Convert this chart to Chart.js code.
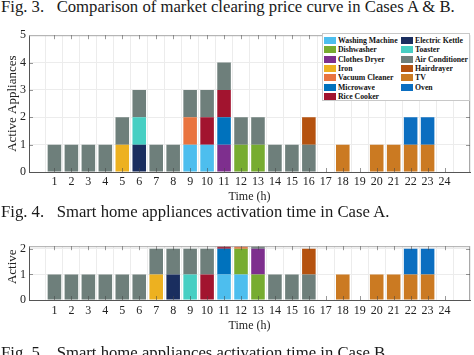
<!DOCTYPE html>
<html><head><meta charset="utf-8">
<script src="https://cdn.jsdelivr.net/npm/chart.js@4.4.1/dist/chart.umd.min.js"></script>
<style>
html,body{margin:0;padding:0;background:#fff;}
body{width:474px;height:355px;position:relative;overflow:hidden;font-family:"Liberation Serif","Times New Roman",serif;color:#1a1a1a;}
.cap{position:absolute;left:1px;font-size:16.7px;line-height:16.7px;white-space:pre;}
canvas{position:absolute;left:0;}
#legend{position:absolute;left:322px;top:33px;width:148px;height:68px;background:#fff;border:1px solid #c8c8c8;box-sizing:border-box;}
.li{position:absolute;font-weight:bold;font-size:9px;line-height:9px;white-space:nowrap;color:#111;transform:scaleX(0.86);transform-origin:0 0;}
.sw{position:absolute;width:12px;height:7px;}
</style>
</head><body>
<div class="cap" style="top:-1.5px">Fig. 3.   Comparison of market clearing price curve in Cases A &amp; B.</div>
<canvas id="c1" width="474" height="190" style="top:25px"></canvas>
<div id="legend"></div>
<div class="cap" style="top:203.5px">Fig. 4.   Smart home appliances activation time in Case A.</div>
<canvas id="c2" width="474" height="100" style="top:236px"></canvas>
<div class="cap" style="top:345px">Fig. 5.   Smart home appliances activation time in Case B.</div>
<script>
// ---------- data ----------
const hours = [1,2,3,4,5,6,7,8,9,10,11,12,13,14,15,16,17,18,19,20,21,22,23,24];
const applianceNames = ["Washing Machine","Dishwasher","Clothes Dryer","Iron","Vacuum Cleaner","Microwave","Rice Cooker","Electric Kettle","Toaster","Air Conditioner","Hairdrayer","TV","Oven"];
const applianceColors = ["#4DBEEE","#77AC30","#7E2F8E","#EDB120","#E9743F","#0072BD","#A2142F","#1A2E5F","#47CFC3","#6E7F7B","#B5520F","#CB7A22","#0B6EC0"];

// Case A (hour 1..24)
const caseA_washingMachine  = [0,0,0,0,0,0,0,0,1,1,0,0,0,0,0,0,0,0,0,0,0,0,0,0];
const caseA_dishwasher      = [0,0,0,0,0,0,0,0,0,0,0,1,1,0,0,0,0,0,0,0,0,0,0,0];
const caseA_clothesDryer    = [0,0,0,0,0,0,0,0,0,0,1,0,0,0,0,0,0,0,0,0,0,0,0,0];
const caseA_iron            = [0,0,0,0,1,0,0,0,0,0,0,0,0,0,0,0,0,0,0,0,0,0,0,0];
const caseA_vacuumCleaner   = [0,0,0,0,0,0,0,0,1,0,0,0,0,0,0,0,0,0,0,0,0,0,0,0];
const caseA_microwave       = [0,0,0,0,0,0,0,0,0,0,1,0,0,0,0,0,0,0,0,0,0,0,0,0];
const caseA_riceCooker      = [0,0,0,0,0,0,0,0,0,1,1,0,0,0,0,0,0,0,0,0,0,0,0,0];
const caseA_electricKettle  = [0,0,0,0,0,1,0,0,0,0,0,0,0,0,0,0,0,0,0,0,0,0,0,0];
const caseA_toaster         = [0,0,0,0,0,1,0,0,0,0,0,0,0,0,0,0,0,0,0,0,0,0,0,0];
const caseA_airConditioner  = [1,1,1,1,1,1,1,1,1,1,1,1,1,1,1,1,0,0,0,0,0,0,0,0];
const caseA_hairdryer       = [0,0,0,0,0,0,0,0,0,0,0,0,0,0,0,1,0,0,0,0,0,0,0,0];
const caseA_tv              = [0,0,0,0,0,0,0,0,0,0,0,0,0,0,0,0,0,1,0,1,1,1,1,0];
const caseA_oven            = [0,0,0,0,0,0,0,0,0,0,0,0,0,0,0,0,0,0,0,0,0,1,1,0];

// Case B (hour 1..24)
const caseB_washingMachine  = [0,0,0,0,0,0,0,0,0,0,1,1,0,0,0,0,0,0,0,0,0,0,0,0];
const caseB_dishwasher      = [0,0,0,0,0,0,0,0,0,0,0,1,1,0,0,0,0,0,0,0,0,0,0,0];
const caseB_clothesDryer    = [0,0,0,0,0,0,0,0,0,0,0,0,1,0,0,0,0,0,0,0,0,0,0,0];
const caseB_iron            = [0,0,0,0,0,0,1,0,0,0,0,0,0,0,0,0,0,0,0,0,0,0,0,0];
const caseB_vacuumCleaner   = [0,0,0,0,0,0,0,0,0,0,0,1,0,0,0,0,0,0,0,0,0,0,0,0];
const caseB_microwave       = [0,0,0,0,0,0,0,0,0,0,1,0,0,0,0,0,0,0,0,0,0,0,0,0];
const caseB_riceCooker      = [0,0,0,0,0,0,0,0,0,1,1,0,0,0,0,0,0,0,0,0,0,0,0,0];
const caseB_electricKettle  = [0,0,0,0,0,0,0,1,0,0,0,0,0,0,0,0,0,0,0,0,0,0,0,0];
const caseB_toaster         = [0,0,0,0,0,0,0,0,1,0,0,0,0,0,0,0,0,0,0,0,0,0,0,0];
const caseB_airConditioner  = [1,1,1,1,1,1,1,1,1,1,0,0,1,1,1,1,0,0,0,0,0,0,0,0];
const caseB_hairdryer       = [0,0,0,0,0,0,0,0,0,0,0,0,0,0,0,1,0,0,0,0,0,0,0,0];
const caseB_tv              = [0,0,0,0,0,0,0,0,0,0,0,0,0,0,0,0,0,1,0,1,1,1,1,0];
const caseB_oven            = [0,0,0,0,0,0,0,0,0,0,0,0,0,0,0,0,0,0,0,0,0,1,1,0];

const caseASeries = [caseA_washingMachine,caseA_dishwasher,caseA_clothesDryer,caseA_iron,caseA_vacuumCleaner,caseA_microwave,caseA_riceCooker,caseA_electricKettle,caseA_toaster,caseA_airConditioner,caseA_hairdryer,caseA_tv,caseA_oven];
const caseBSeries = [caseB_washingMachine,caseB_dishwasher,caseB_clothesDryer,caseB_iron,caseB_vacuumCleaner,caseB_microwave,caseB_riceCooker,caseB_electricKettle,caseB_toaster,caseB_airConditioner,caseB_hairdryer,caseB_tv,caseB_oven];

// ---------- rendering ----------
const SERIF = '"Liberation Serif","Times New Roman",serif';
const frame = {
  id:'frame',
  afterDraw(chart){
    const {ctx, chartArea:a, scales:{x,y}} = chart;
    ctx.save();
    ctx.lineWidth = 1;
    ctx.strokeStyle = '#a8a8a8';
    ctx.beginPath();
    ctx.moveTo(a.left, a.top+0.5); ctx.lineTo(a.right, a.top+0.5);
    ctx.moveTo(a.right-0.5, a.top); ctx.lineTo(a.right-0.5, a.bottom);
    ctx.stroke();
    ctx.strokeStyle = 'rgba(70,70,70,0.55)';
    ctx.beginPath();
    x.ticks.forEach(t => {
      if (t.value <= 0 || t.value >= 25) return;
      const px = Math.round(x.getPixelForValue(t.value)) + 0.5;
      ctx.moveTo(px, a.bottom); ctx.lineTo(px, a.bottom-4);
      ctx.moveTo(px, a.top); ctx.lineTo(px, a.top+4);
    });
    y.ticks.forEach(t => {
      const py = Math.round(y.getPixelForValue(t.value)) + 0.5;
      if (py <= a.top+1 || py >= a.bottom-1) return;
      ctx.moveTo(a.left, py); ctx.lineTo(a.left+4, py);
      ctx.moveTo(a.right, py); ctx.lineTo(a.right-4, py);
    });
    ctx.stroke();
    ctx.restore();
  }
};

function makeChart(id, series, cfg) {
  const datasets = series.map((d, i) => ({
    label: applianceNames[i], data: d, backgroundColor: applianceColors[i],
    borderWidth: 0, barPercentage: 0.8, categoryPercentage: 1.0
  }));
  return new Chart(document.getElementById(id), {
    type: 'bar',
    data: { labels: hours, datasets },
    options: {
      responsive: false, animation: false, devicePixelRatio: 1,
      layout: { padding: { top: cfg.padTop, right: 4, left: 0, bottom: 0 } },
      plugins: { legend: { display: false }, tooltip: { enabled: false } },
      scales: {
        x: {
          type: 'linear', stacked: true, min: 0, max: 25,
          afterFit: s => { s.height = cfg.xHeight; },
          ticks: { stepSize: 1, autoSkip: false, maxRotation: 0, padding: cfg.xTickPad, color: '#222',
                   font: { family: SERIF, size: 12 },
                   callback: v => (v >= 1 && v <= 24) ? String(v) : '' },
          grid: { color: '#ececec', drawTicks: false },
          border: { display: true, color: '#555' },
          title: { display: true, text: 'Time (h)', color: '#222', font: { family: SERIF, size: 12 },
                   padding: { top: 0, bottom: cfg.xTitlePad } }
        },
        y: {
          stacked: true, min: 0, max: cfg.yMax,
          afterFit: s => { s.width = 29; },
          ticks: { stepSize: 1, includeBounds: false, padding: 3, color: '#222', font: { family: SERIF, size: 12 } },
          grid: { color: '#ececec', drawTicks: false },
          border: { display: true, color: '#555' },
          title: { display: true, text: cfg.yTitle, align: cfg.yAlign, color: '#222', font: { family: SERIF, size: 13 },
                   padding: { top: 5, bottom: 0 } }
        }
      }
    },
    plugins: [frame]
  });
}

makeChart('c1', caseASeries, { padTop: 7, xHeight: 43, xTickPad: 3, xTitlePad: 11, yMax: 5, yTitle: 'Active Appliances', yAlign: 'center' });
makeChart('c2', caseBSeries, { padTop: 5, xHeight: 36, xTickPad: 4, xTitlePad: 3, yMax: 2.1, yTitle: 'Active ', yAlign: 'end' });

// HTML legend inside chart 1
const lg = document.getElementById('legend');
applianceNames.forEach((n, i) => {
  const col = i < 7 ? 0 : 1, row = i < 7 ? i : i - 7;
  const top = 2 + row * 9.3;
  const sw = document.createElement('div');
  sw.className = 'sw'; sw.style.background = applianceColors[i];
  sw.style.left = (col ? 78 : 1) + 'px'; sw.style.top = (top + 1) + 'px';
  lg.appendChild(sw);
  const t = document.createElement('div');
  t.className = 'li'; t.textContent = n;
  t.style.left = (col ? 92 : 15) + 'px'; t.style.top = top + 'px';
  lg.appendChild(t);
});
</script>
</body></html>
